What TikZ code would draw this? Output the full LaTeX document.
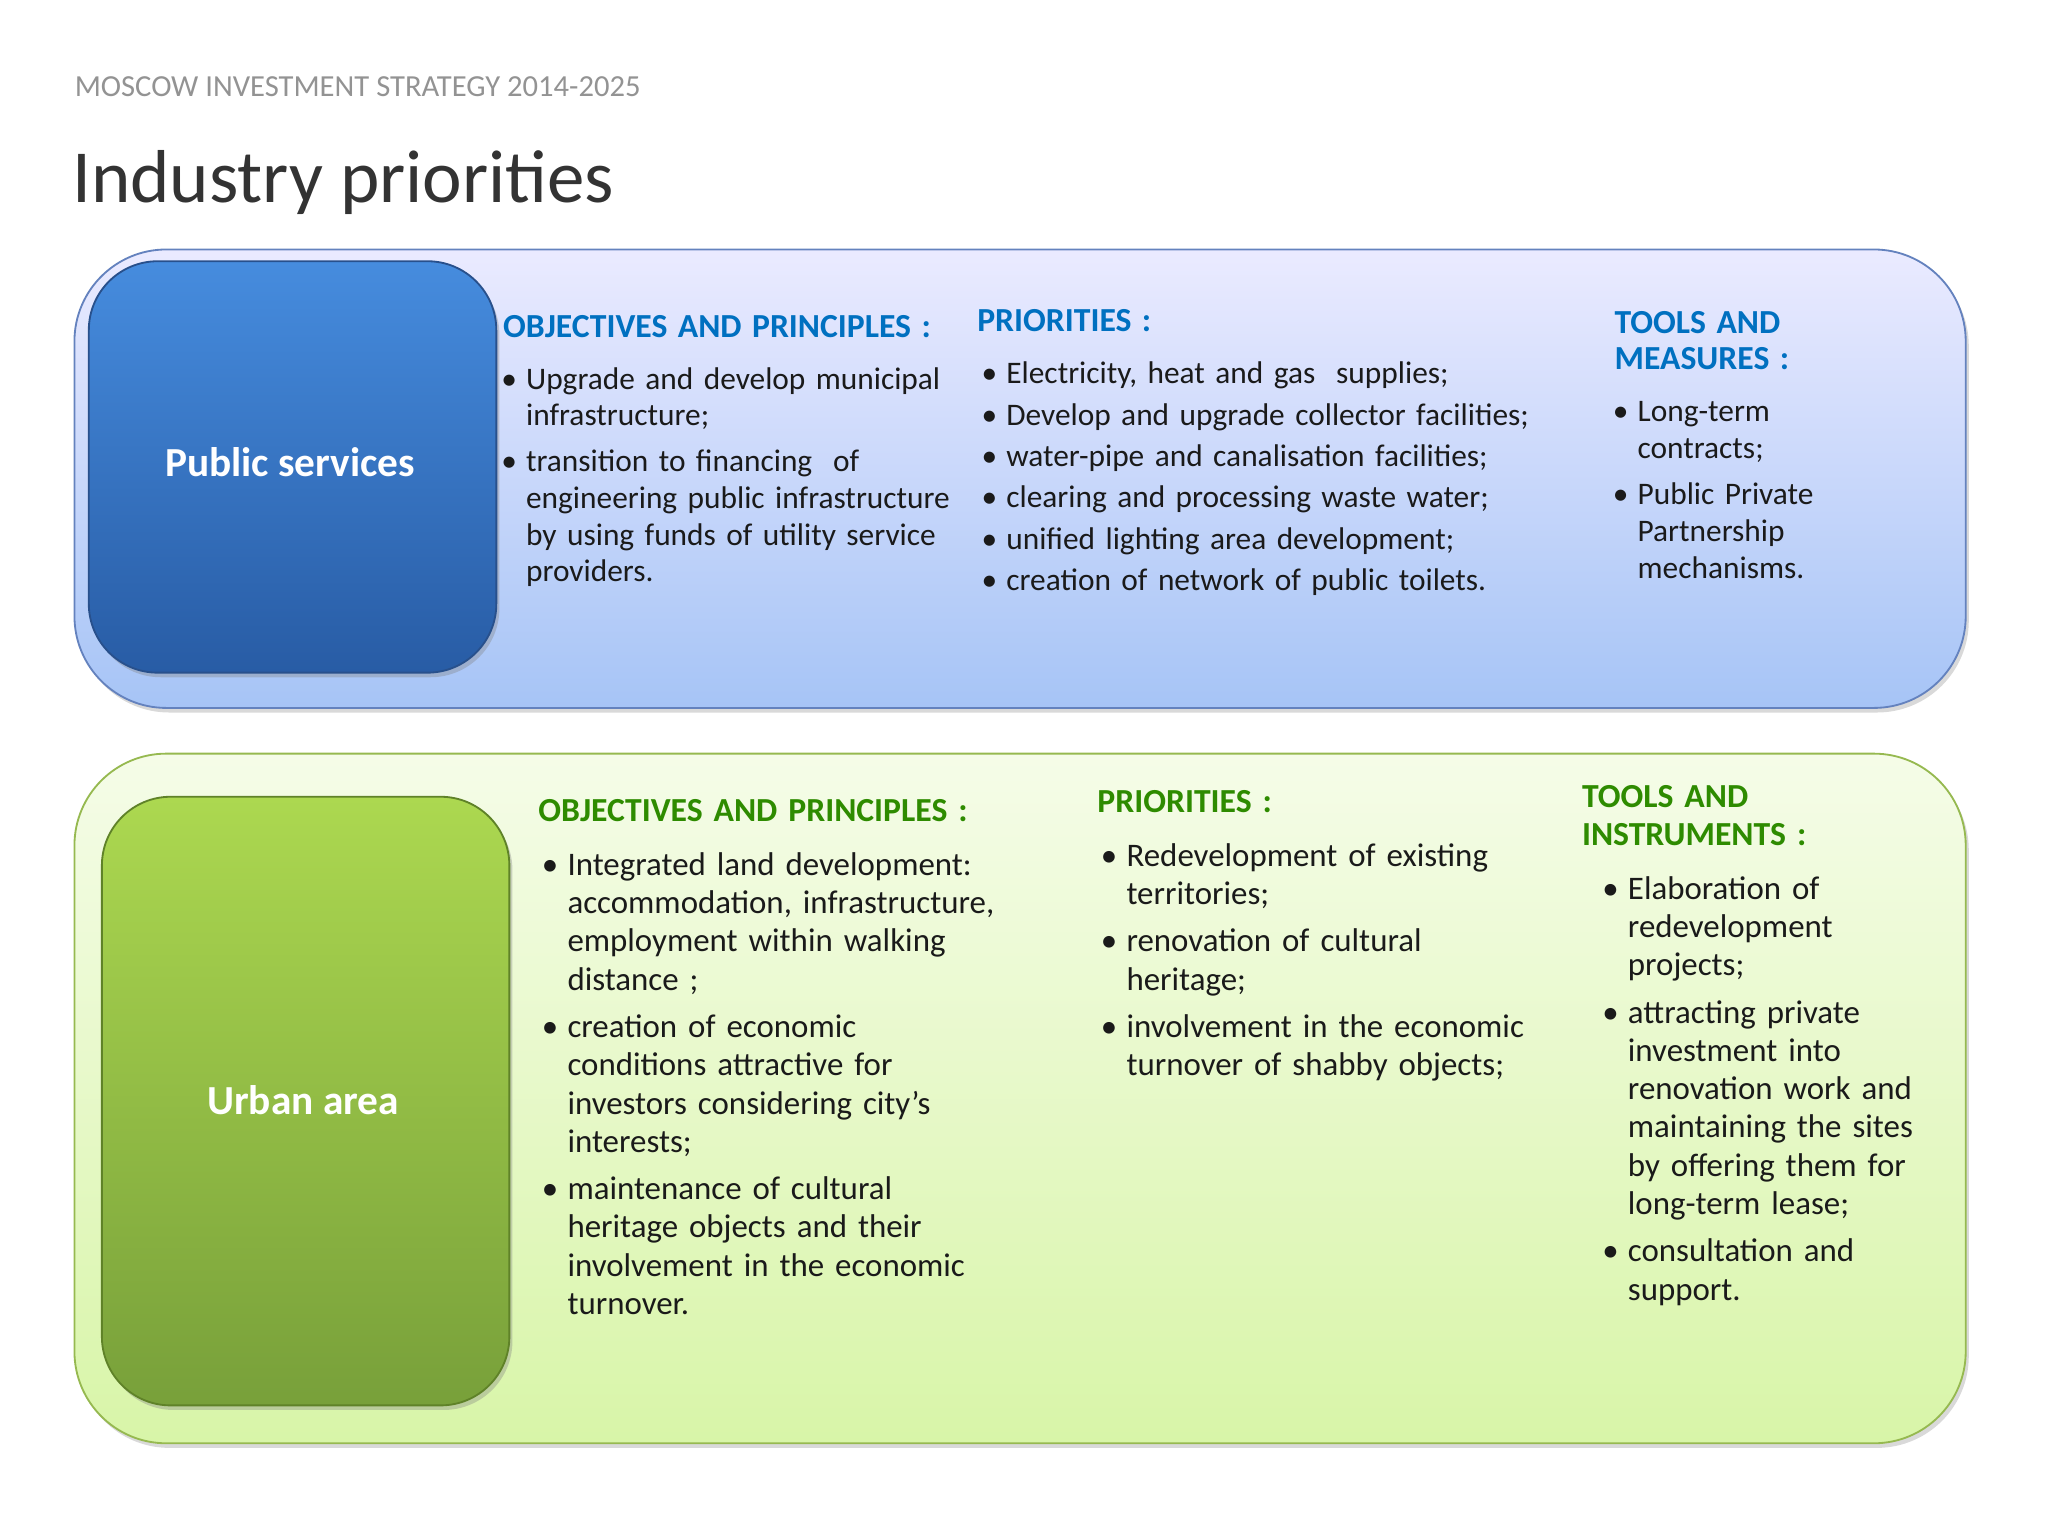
\documentclass[tikz,border=0pt]{standalone}
\usepackage{fontspec}
\setmainfont{Carlito}
\usepackage{enumitem}
\usetikzlibrary{shadows}
\definecolor{hb}{HTML}{0070C0}
\definecolor{hg}{HTML}{2E8B00}
\definecolor{tx}{HTML}{1A1A1A}
\tikzset{
 panel/.style={rounded corners=60, line width=1.2pt},
 lab/.style={rounded corners=45, line width=1.2pt, drop shadow={opacity=0.35,shadow xshift=2pt,shadow yshift=-3pt}},
 col/.style={anchor=north west, inner sep=0pt, align=left, text=tx, font=\fontsize{20.5}{24}\selectfont},
}
\newcommand{\hd}[2]{{\color{#1}\bfseries\fontsize{22}{25}\selectfont #2}\par}
\newenvironment{bl}[1][18pt]{\begin{itemize}[leftmargin=#1,labelsep=6pt,itemsep=6pt,topsep=8pt,parsep=0pt]}{\end{itemize}}
\begin{document}
\begin{tikzpicture}[x=0.03cm,y=-0.03cm]
\useasboundingbox (0,0) rectangle (1568,1176);
\node[anchor=west,inner sep=0pt,text=gray!85,font=\fontsize{20}{22}\selectfont] (hdr) at (57,66) {MOSCOW INVESTMENT STRATEGY 2014-2025};
\node[anchor=west,inner sep=0pt,text=black!80,font=\fontsize{49}{52}\selectfont] (ttl) at (55,140) {Industry priorities};
% top panel
\draw[panel,draw={rgb,255:red,100;green,130;blue,190}, top color=blue!8, bottom color={rgb,255:red,166;green,196;blue,246},drop shadow={opacity=0.3,shadow xshift=2pt,shadow yshift=-3pt}] (57,191) rectangle (1505,542);
\draw[lab,draw={rgb,255:red,40;green,80;blue,140},top color={rgb,255:red,70;green,140;blue,222},bottom color={rgb,255:red,40;green,92;blue,165}] (68,200) rectangle (380,515);
\node[text=white,font=\bfseries\fontsize{27}{30}\selectfont] (ps) at (222,354) {Public services};
\node[col,text width=10.3cm] (o1) at (385,241) {\hd{hb}{OBJECTIVES AND PRINCIPLES :}\begin{bl}[15pt]
\item Upgrade and develop municipal infrastructure;
\item transition to financing\ \ of engineering public infrastructure by using funds of utility service providers.\end{bl}};
\node[col,text width=13.3cm] (p1) at (748,237) {\hd{hb}{PRIORITIES :}\begin{bl}[19pt]\setlength{\itemsep}{3pt}
\item Electricity, heat and gas\ \ supplies;
\item Develop and upgrade collector facilities;
\item water-pipe and canalisation facilities;
\item clearing and processing waste water;
\item unified lighting area development;
\item creation of network of public toilets.\end{bl}};
\node[col,text width=5.6cm] (t1) at (1236,238) {\hd{hb}{TOOLS AND\\MEASURES :}\begin{bl}[15pt]
\item Long-term contracts;
\item Public Private Partnership mechanisms.\end{bl}};
% bottom panel
\draw[panel,draw={rgb,255:red,150;green,185;blue,80}, top color={rgb,255:red,245;green,252;blue,232}, bottom color={rgb,255:red,216;green,245;blue,168},drop shadow={opacity=0.3,shadow xshift=2pt,shadow yshift=-3pt}] (57,577) rectangle (1505,1105);
\draw[lab,draw={rgb,255:red,95;green,130;blue,40},top color={rgb,255:red,172;green,216;blue,80},bottom color={rgb,255:red,120;green,160;blue,58}] (78,610) rectangle (390,1076);
\node[text=white,font=\bfseries\fontsize{27}{30}\selectfont] (ua) at (232,842) {Urban area};
\node[col,text width=10.6cm,font=\fontsize{21.5}{25}\selectfont] (o2) at (412,612) {\hd{hg}{OBJECTIVES AND PRINCIPLES :}\begin{bl}[19pt]
\item Integrated land development: accommodation, infrastructure, employment within walking distance ;
\item creation of economic conditions attractive for investors considering city’s interests;
\item maintenance of cultural heritage objects and their involvement in the economic turnover.\end{bl}};
\node[col,text width=10.3cm,font=\fontsize{21.5}{25}\selectfont] (p2) at (840,605) {\hd{hg}{PRIORITIES :}\begin{bl}[19pt]
\item Redevelopment of existing territories;
\item renovation of cultural heritage;
\item involvement in the economic turnover of shabby objects;\end{bl}};
\node[col,text width=8.1cm,font=\fontsize{21.5}{25}\selectfont] (t2) at (1211,601) {\hd{hg}{TOOLS AND\\INSTRUMENTS :}\begin{bl}[30pt]
\item Elaboration of redevelopment projects;
\item attracting private investment into renovation work and maintaining the sites by offering them for long-term lease;
\item consultation and support.\end{bl}};
\end{tikzpicture}
\end{document}
